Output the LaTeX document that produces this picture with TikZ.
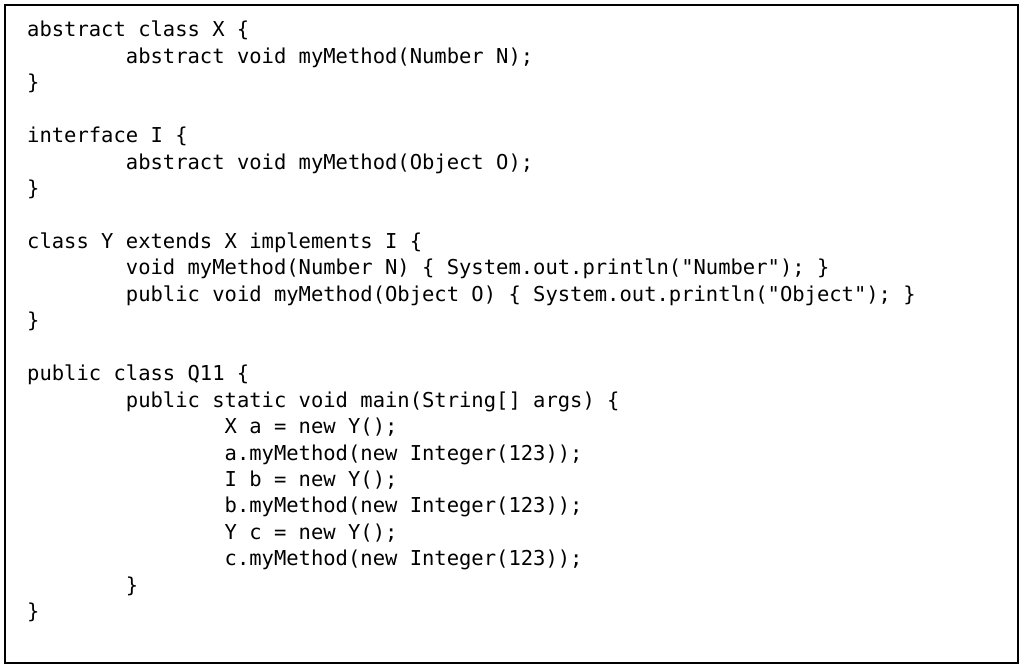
\documentclass[tikz,border=0pt]{standalone}
\usepackage{fontspec}
\newfontfamily\code{DejaVu Sans Mono}
\newcommand\tb{\ \ \ \ \ \ \ \ }
\begin{document}
\begin{tikzpicture}[x=1pt,y=-1pt]
\useasboundingbox (0,0) rectangle (1024,669);
\draw[line width=1.5pt] (5,5) rectangle (1018,663);
\node[anchor=north west,inner sep=0pt,align=left,font=\code\fontsize{20.5pt}{26.45pt}\selectfont] (code) at (27,21) {%
abstract class X \{\\
\tb abstract void myMethod(Number N);\\
\}\\
\strut\\
interface I \{\\
\tb abstract void myMethod(Object O);\\
\}\\
\strut\\
class Y extends X implements I \{\\
\tb void myMethod(Number N) \{ System.out.println("Number"); \}\\
\tb public void myMethod(Object O) \{ System.out.println("Object"); \}\\
\}\\
\strut\\
public class Q11 \{\\
\tb public static void main(String[] args) \{\\
\tb\tb X a = new Y();\\
\tb\tb a.myMethod(new Integer(123));\\
\tb\tb I b = new Y();\\
\tb\tb b.myMethod(new Integer(123));\\
\tb\tb Y c = new Y();\\
\tb\tb c.myMethod(new Integer(123));\\
\tb \}\\
\}};
\end{tikzpicture}
\end{document}
